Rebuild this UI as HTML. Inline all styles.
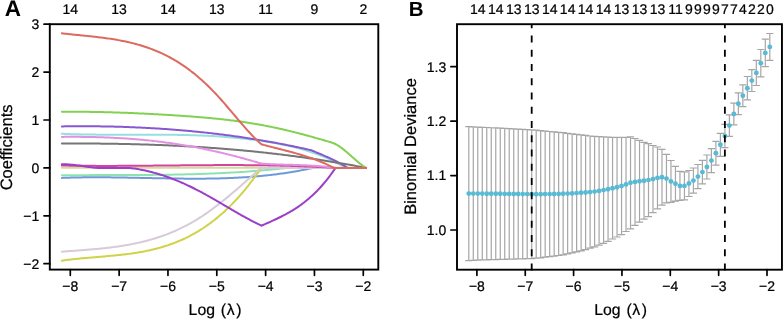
<!DOCTYPE html>
<html><head><meta charset="utf-8"><title>LASSO plots</title>
<style>html,body{margin:0;padding:0;background:#fff;width:783px;height:319px;overflow:hidden}svg{display:block}svg text{stroke:#000;stroke-width:0.22px}svg text.bl{stroke:none}</style>
</head><body>
<svg width="783" height="319" viewBox="0 0 783 319" text-rendering="geometricPrecision">
<rect width="783" height="319" fill="#fff"/>
<g fill="none" stroke-width="2.0" stroke-linejoin="round" stroke-linecap="round">
<path stroke="#D8D89A" d="M61.9 167.8 L366.1 167.8"/>
<path stroke="#8EE2B0" d="M61.9 175.3 L63.41 175.29 L64.92 175.27 L66.43 175.26 L67.94 175.25 L69.45 175.23 L70.96 175.22 L72.48 175.21 L73.99 175.2 L75.5 175.19 L77.01 175.18 L78.52 175.17 L80.03 175.17 L81.54 175.16 L83.05 175.15 L84.56 175.14 L86.07 175.14 L87.58 175.13 L89.09 175.13 L90.6 175.12 L92.11 175.12 L93.63 175.11 L95.14 175.11 L96.65 175.1 L98.16 175.1 L99.67 175.1 L101.18 175.09 L102.69 175.09 L104.2 175.09 L105.71 175.08 L107.22 175.08 L108.73 175.08 L110.24 175.07 L111.75 175.07 L113.27 175.07 L114.78 175.06 L116.29 175.06 L117.8 175.06 L119.31 175.05 L120.82 175.05 L122.33 175.05 L123.84 175.04 L125.35 175.04 L126.86 175.03 L128.37 175.03 L129.88 175.02 L131.39 175.02 L132.9 175.01 L134.42 175 L135.93 175 L137.44 174.99 L138.95 174.98 L140.46 174.97 L141.97 174.96 L143.48 174.95 L144.99 174.94 L146.5 174.93 L148.01 174.92 L149.52 174.91 L151.03 174.9 L152.54 174.89 L154.06 174.87 L155.57 174.86 L157.08 174.84 L158.59 174.83 L160.1 174.81 L161.61 174.79 L163.12 174.77 L164.63 174.75 L166.14 174.73 L167.65 174.71 L169.16 174.69 L170.67 174.66 L172.18 174.64 L173.69 174.61 L175.21 174.59 L176.72 174.56 L178.23 174.53 L179.74 174.5 L181.25 174.47 L182.76 174.44 L184.27 174.4 L185.78 174.37 L187.29 174.33 L188.8 174.3 L190.31 174.26 L191.82 174.22 L193.33 174.18 L194.84 174.13 L196.36 174.09 L197.87 174.04 L199.38 174 L200.89 173.95 L202.4 173.9 L203.91 173.85 L205.42 173.79 L206.93 173.74 L208.44 173.68 L209.95 173.62 L211.46 173.56 L212.97 173.5 L214.48 173.44 L216 173.37 L217.51 173.31 L219.02 173.24 L220.53 173.17 L222.04 173.1 L223.55 173.02 L225.06 172.95 L226.57 172.87 L228.08 172.79 L229.59 172.71 L231.1 172.62 L232.61 172.54 L234.12 172.45 L235.63 172.36 L237.15 172.27 L238.66 172.17 L240.17 172.08 L241.68 171.98 L243.19 171.88 L244.7 171.78 L246.21 171.67 L247.72 171.56 L249.23 171.46 L250.74 171.34 L252.25 171.23 L253.76 171.11 L255.27 170.99 L256.79 170.87 L258.3 170.75 L259.81 170.62 L261.32 170.49 L262.83 170.36 L264.34 170.23 L265.85 170.09 L267.36 169.95 L268.87 169.81 L270.38 169.67 L271.89 169.52 L273.4 169.37 L274.91 169.22 L276.42 169.06 L277.94 168.91 L279.45 168.75 L280.96 168.58 L282.47 168.42 L283.98 168.25 L285.49 168.08 L287 167.9 M287 167.9 L366.1 167.9"/>
<path stroke="#6E9AD6" d="M61.9 177.9 L63.41 177.84 L64.93 177.79 L66.44 177.74 L67.95 177.69 L69.46 177.64 L70.98 177.6 L72.49 177.56 L74 177.52 L75.51 177.49 L77.03 177.46 L78.54 177.43 L80.05 177.4 L81.56 177.38 L83.08 177.36 L84.59 177.34 L86.1 177.33 L87.62 177.31 L89.13 177.3 L90.64 177.29 L92.15 177.29 L93.67 177.28 L95.18 177.28 L96.69 177.28 L98.2 177.28 L99.72 177.29 L101.23 177.29 L102.74 177.3 L104.25 177.31 L105.77 177.32 L107.28 177.33 L108.79 177.35 L110.3 177.36 L111.82 177.38 L113.33 177.39 L114.84 177.41 L116.36 177.43 L117.87 177.46 L119.38 177.48 L120.89 177.5 L122.41 177.53 L123.92 177.55 L125.43 177.58 L126.94 177.61 L128.46 177.63 L129.97 177.66 L131.48 177.69 L132.99 177.72 L134.51 177.75 L136.02 177.78 L137.53 177.81 L139.05 177.85 L140.56 177.88 L142.07 177.91 L143.58 177.94 L145.1 177.97 L146.61 178.01 L148.12 178.04 L149.63 178.07 L151.15 178.1 L152.66 178.13 L154.17 178.16 L155.68 178.2 L157.2 178.23 L158.71 178.26 L160.22 178.29 L161.73 178.31 L163.25 178.34 L164.76 178.37 L166.27 178.4 L167.79 178.42 L169.3 178.45 L170.81 178.47 L172.32 178.5 L173.84 178.52 L175.35 178.54 L176.86 178.56 L178.37 178.58 L179.89 178.59 L181.4 178.61 L182.91 178.62 L184.42 178.64 L185.94 178.65 L187.45 178.66 L188.96 178.67 L190.48 178.67 L191.99 178.68 L193.5 178.68 L195.01 178.68 L196.53 178.68 L198.04 178.68 L199.55 178.67 L201.06 178.66 L202.58 178.65 L204.09 178.64 L205.6 178.63 L207.11 178.61 L208.63 178.59 L210.14 178.57 L211.65 178.55 L213.17 178.52 L214.68 178.49 L216.19 178.46 L217.7 178.42 L219.22 178.39 L220.73 178.34 L222.24 178.3 L223.75 178.25 L225.27 178.2 L226.78 178.15 L228.29 178.09 L229.8 178.03 L231.32 177.97 L232.83 177.9 L234.34 177.83 L235.85 177.76 L237.37 177.68 L238.88 177.6 L240.39 177.52 L241.91 177.43 L243.42 177.34 L244.93 177.24 L246.44 177.14 L247.96 177.04 L249.47 176.93 L250.98 176.82 L252.49 176.7 L254.01 176.58 L255.52 176.45 L257.03 176.32 L258.54 176.19 L260.06 176.05 L261.57 175.91 L263.08 175.76 L264.6 175.61 L266.11 175.45 L267.62 175.29 L269.13 175.12 L270.65 174.95 L272.16 174.78 L273.67 174.59 L275.18 174.41 L276.7 174.21 L278.21 174.02 L279.72 173.82 L281.23 173.61 L282.75 173.39 L284.26 173.18 L285.77 172.95 L287.28 172.72 L288.8 172.49 L290.31 172.24 L291.82 172 L293.34 171.75 L294.85 171.49 L296.36 171.22 L297.87 170.95 L299.39 170.67 L300.9 170.39 L302.41 170.1 L303.92 169.81 L305.44 169.51 L306.95 169.2 L308.46 168.88 L309.97 168.56 L311.49 168.24 L313 167.9 M313 167.9 L366.1 167.9"/>
<path stroke="#D0D24A" d="M61.9 260.7 L63.42 260.48 L64.94 260.26 L66.46 260.06 L67.99 259.86 L69.51 259.66 L71.03 259.48 L72.55 259.3 L74.07 259.13 L75.59 258.96 L77.11 258.8 L78.64 258.64 L80.16 258.49 L81.68 258.34 L83.2 258.2 L84.72 258.06 L86.24 257.92 L87.76 257.78 L89.28 257.65 L90.81 257.52 L92.33 257.39 L93.85 257.27 L95.37 257.14 L96.89 257.01 L98.41 256.89 L99.93 256.76 L101.46 256.64 L102.98 256.51 L104.5 256.38 L106.02 256.25 L107.54 256.12 L109.06 255.98 L110.58 255.85 L112.11 255.71 L113.63 255.57 L115.15 255.42 L116.67 255.27 L118.19 255.11 L119.71 254.95 L121.23 254.79 L122.75 254.61 L124.28 254.44 L125.8 254.25 L127.32 254.06 L128.84 253.87 L130.36 253.66 L131.88 253.45 L133.4 253.23 L134.93 253 L136.45 252.76 L137.97 252.52 L139.49 252.26 L141.01 251.99 L142.53 251.72 L144.05 251.43 L145.58 251.13 L147.1 250.82 L148.62 250.5 L150.14 250.16 L151.66 249.82 L153.18 249.46 L154.7 249.09 L156.23 248.7 L157.75 248.3 L159.27 247.89 L160.79 247.46 L162.31 247.01 L163.83 246.55 L165.35 246.08 L166.87 245.59 L168.4 245.08 L169.92 244.56 L171.44 244.01 L172.96 243.45 L174.48 242.88 L176 242.28 L177.52 241.67 L179.05 241.03 L180.57 240.38 L182.09 239.71 L183.61 239.01 L185.13 238.3 L186.65 237.56 L188.17 236.81 L189.7 236.03 L191.22 235.23 L192.74 234.41 L194.26 233.56 L195.78 232.69 L197.3 231.8 L198.82 230.88 L200.35 229.94 L201.87 228.97 L203.39 227.98 L204.91 226.97 L206.43 225.92 L207.95 224.85 L209.47 223.76 L210.99 222.64 L212.52 221.48 L214.04 220.31 L215.56 219.1 L217.08 217.86 L218.6 216.6 L220.12 215.31 L221.64 213.98 L223.17 212.63 L224.69 211.25 L226.21 209.83 L227.73 208.39 L229.25 206.91 L230.77 205.4 L232.29 203.86 L233.82 202.28 L235.34 200.67 L236.86 199.03 L238.38 197.36 L239.9 195.65 L241.42 193.9 L242.94 192.12 L244.46 190.31 L245.99 188.46 L247.51 186.57 L249.03 184.65 L250.55 182.69 L252.07 180.69 L253.59 178.65 L255.11 176.58 L256.64 174.47 L258.16 172.32 L259.68 170.13 L261.2 167.9 M261.2 167.9 L366.1 167.9"/>
<path stroke="#D8CAD8" d="M61.9 251.7 L63.42 251.58 L64.94 251.46 L66.46 251.34 L67.98 251.23 L69.5 251.11 L71.02 251 L72.54 250.89 L74.06 250.77 L75.58 250.66 L77.1 250.54 L78.62 250.43 L80.14 250.31 L81.66 250.2 L83.18 250.08 L84.7 249.96 L86.22 249.84 L87.74 249.72 L89.26 249.59 L90.78 249.46 L92.3 249.33 L93.82 249.2 L95.34 249.06 L96.86 248.92 L98.38 248.77 L99.9 248.63 L101.42 248.47 L102.94 248.32 L104.46 248.15 L105.98 247.99 L107.5 247.81 L109.02 247.64 L110.54 247.45 L112.05 247.26 L113.57 247.07 L115.09 246.86 L116.61 246.65 L118.13 246.44 L119.65 246.21 L121.17 245.98 L122.69 245.74 L124.21 245.5 L125.73 245.24 L127.25 244.98 L128.77 244.71 L130.29 244.42 L131.81 244.13 L133.33 243.83 L134.85 243.52 L136.37 243.2 L137.89 242.87 L139.41 242.53 L140.93 242.18 L142.45 241.82 L143.97 241.44 L145.49 241.06 L147.01 240.66 L148.53 240.25 L150.05 239.83 L151.57 239.4 L153.09 238.95 L154.61 238.49 L156.13 238.02 L157.65 237.53 L159.17 237.03 L160.69 236.52 L162.21 235.99 L163.73 235.45 L165.25 234.89 L166.77 234.32 L168.29 233.73 L169.81 233.13 L171.33 232.51 L172.85 231.88 L174.37 231.23 L175.89 230.56 L177.41 229.88 L178.93 229.18 L180.45 228.46 L181.97 227.72 L183.49 226.97 L185.01 226.2 L186.53 225.41 L188.05 224.6 L189.57 223.78 L191.09 222.93 L192.61 222.07 L194.13 221.18 L195.65 220.28 L197.17 219.36 L198.69 218.42 L200.21 217.45 L201.73 216.47 L203.25 215.46 L204.77 214.44 L206.29 213.4 L207.81 212.33 L209.33 211.26 L210.85 210.16 L212.36 209.05 L213.88 207.92 L215.4 206.77 L216.92 205.61 L218.44 204.44 L219.96 203.25 L221.48 202.05 L223 200.83 L224.52 199.61 L226.04 198.37 L227.56 197.12 L229.08 195.86 L230.6 194.59 L232.12 193.3 L233.64 192.02 L235.16 190.72 L236.68 189.41 L238.2 188.1 L239.72 186.78 L241.24 185.45 L242.76 184.12 L244.28 182.78 L245.8 181.44 L247.32 180.1 L248.84 178.75 L250.36 177.4 L251.88 176.04 L253.4 174.69 L254.92 173.33 L256.44 171.97 L257.96 170.61 L259.48 169.25 L261 167.9 M261 167.9 L366.1 167.9"/>
<path stroke="#D2459C" d="M61.9 165.5 L63.41 165.53 L64.92 165.56 L66.43 165.58 L67.94 165.61 L69.44 165.63 L70.95 165.65 L72.46 165.67 L73.97 165.69 L75.48 165.71 L76.99 165.73 L78.5 165.75 L80.01 165.76 L81.51 165.78 L83.02 165.79 L84.53 165.81 L86.04 165.82 L87.55 165.83 L89.06 165.84 L90.57 165.85 L92.08 165.86 L93.59 165.86 L95.09 165.87 L96.6 165.88 L98.11 165.88 L99.62 165.88 L101.13 165.89 L102.64 165.89 L104.15 165.89 L105.66 165.89 L107.17 165.89 L108.67 165.89 L110.18 165.89 L111.69 165.89 L113.2 165.88 L114.71 165.88 L116.22 165.88 L117.73 165.87 L119.24 165.87 L120.74 165.86 L122.25 165.85 L123.76 165.85 L125.27 165.84 L126.78 165.83 L128.29 165.82 L129.8 165.81 L131.31 165.81 L132.82 165.8 L134.32 165.79 L135.83 165.78 L137.34 165.76 L138.85 165.75 L140.36 165.74 L141.87 165.73 L143.38 165.72 L144.89 165.7 L146.4 165.69 L147.9 165.68 L149.41 165.66 L150.92 165.65 L152.43 165.64 L153.94 165.62 L155.45 165.61 L156.96 165.6 L158.47 165.58 L159.97 165.57 L161.48 165.55 L162.99 165.54 L164.5 165.52 L166.01 165.51 L167.52 165.49 L169.03 165.48 L170.54 165.46 L172.05 165.45 L173.55 165.43 L175.06 165.42 L176.57 165.4 L178.08 165.39 L179.59 165.38 L181.1 165.36 L182.61 165.35 L184.12 165.33 L185.62 165.32 L187.13 165.31 L188.64 165.29 L190.15 165.28 L191.66 165.27 L193.17 165.26 L194.68 165.24 L196.19 165.23 L197.7 165.22 L199.2 165.21 L200.71 165.2 L202.22 165.19 L203.73 165.18 L205.24 165.17 L206.75 165.16 L208.26 165.15 L209.77 165.14 L211.28 165.14 L212.78 165.13 L214.29 165.12 L215.8 165.12 L217.31 165.11 L218.82 165.11 L220.33 165.1 L221.84 165.1 L223.35 165.09 L224.85 165.09 L226.36 165.09 L227.87 165.09 L229.38 165.09 L230.89 165.09 L232.4 165.09 L233.91 165.09 L235.42 165.1 L236.93 165.1 L238.43 165.1 L239.94 165.11 L241.45 165.11 L242.96 165.12 L244.47 165.13 L245.98 165.14 L247.49 165.15 L249 165.16 L250.5 165.17 L252.01 165.18 L253.52 165.2 L255.03 165.21 L256.54 165.23 L258.05 165.24 L259.56 165.26 L261.07 165.28 L262.58 165.3 L264.08 165.32 L265.59 165.34 L267.1 165.37 L268.61 165.39 L270.12 165.42 L271.63 165.44 L273.14 165.47 L274.65 165.5 L276.16 165.53 L277.66 165.56 L279.17 165.6 L280.68 165.63 L282.19 165.67 L283.7 165.7 L285.21 165.74 L286.72 165.78 L288.23 165.82 L289.73 165.87 L291.24 165.91 L292.75 165.96 L294.26 166 L295.77 166.05 L297.28 166.1 L298.79 166.15 L300.3 166.21 L301.81 166.26 L303.31 166.32 L304.82 166.38 L306.33 166.43 L307.84 166.5 L309.35 166.56 L310.86 166.62 L312.37 166.69 L313.88 166.76 L315.39 166.83 L316.89 166.9 L318.4 166.97 L319.91 167.05 L321.42 167.12 L322.93 167.2 L324.44 167.28 L325.95 167.37 L327.46 167.45 L328.96 167.54 L330.47 167.62 L331.98 167.71 L333.49 167.81 L335 167.9 M335 167.9 L366.1 167.9"/>
<path stroke="#96DFDF" d="M61.9 133.8 L63.41 133.86 L64.92 133.92 L66.43 133.98 L67.93 134.03 L69.44 134.09 L70.95 134.14 L72.46 134.18 L73.97 134.23 L75.48 134.27 L76.99 134.31 L78.49 134.35 L80 134.38 L81.51 134.41 L83.02 134.44 L84.53 134.47 L86.04 134.5 L87.54 134.52 L89.05 134.55 L90.56 134.57 L92.07 134.59 L93.58 134.61 L95.09 134.62 L96.6 134.64 L98.1 134.65 L99.61 134.66 L101.12 134.67 L102.63 134.68 L104.14 134.69 L105.65 134.7 L107.16 134.7 L108.66 134.71 L110.17 134.71 L111.68 134.72 L113.19 134.72 L114.7 134.72 L116.21 134.72 L117.71 134.72 L119.22 134.72 L120.73 134.72 L122.24 134.72 L123.75 134.72 L125.26 134.71 L126.77 134.71 L128.27 134.71 L129.78 134.7 L131.29 134.7 L132.8 134.7 L134.31 134.69 L135.82 134.69 L137.33 134.69 L138.83 134.69 L140.34 134.68 L141.85 134.68 L143.36 134.68 L144.87 134.68 L146.38 134.68 L147.89 134.68 L149.39 134.68 L150.9 134.68 L152.41 134.68 L153.92 134.68 L155.43 134.69 L156.94 134.69 L158.44 134.7 L159.95 134.7 L161.46 134.71 L162.97 134.72 L164.48 134.73 L165.99 134.74 L167.5 134.76 L169 134.77 L170.51 134.79 L172.02 134.8 L173.53 134.82 L175.04 134.84 L176.55 134.87 L178.06 134.89 L179.56 134.92 L181.07 134.95 L182.58 134.98 L184.09 135.01 L185.6 135.04 L187.11 135.08 L188.61 135.12 L190.12 135.16 L191.63 135.2 L193.14 135.25 L194.65 135.3 L196.16 135.35 L197.67 135.4 L199.17 135.46 L200.68 135.52 L202.19 135.58 L203.7 135.65 L205.21 135.71 L206.72 135.78 L208.23 135.86 L209.73 135.94 L211.24 136.02 L212.75 136.1 L214.26 136.19 L215.77 136.28 L217.28 136.37 L218.79 136.47 L220.29 136.57 L221.8 136.67 L223.31 136.78 L224.82 136.89 L226.33 137.01 L227.84 137.13 L229.34 137.25 L230.85 137.38 L232.36 137.51 L233.87 137.64 L235.38 137.78 L236.89 137.93 L238.4 138.08 L239.9 138.23 L241.41 138.39 L242.92 138.55 L244.43 138.71 L245.94 138.88 L247.45 139.06 L248.96 139.24 L250.46 139.43 L251.97 139.62 L253.48 139.81 L254.99 140.01 L256.5 140.21 L258.01 140.42 L259.51 140.64 L261.02 140.86 L262.53 141.09 L264.04 141.32 L265.55 141.55 L267.06 141.79 L268.57 142.04 L270.07 142.29 L271.58 142.55 L273.09 142.82 L274.6 143.09 L276.11 143.36 L277.62 143.65 L279.13 143.93 L280.63 144.23 L282.14 144.53 L283.65 144.83 L285.16 145.15 L286.67 145.47 L288.18 145.8 L289.69 146.14 L291.19 146.48 L292.7 146.84 L294.21 147.2 L295.72 147.57 L297.23 147.96 L298.74 148.35 L300.24 148.76 L301.75 149.17 L303.26 149.6 L304.77 150.04 L306.28 150.5 L307.79 150.96 L309.3 151.44 L310.8 151.93 L312.31 152.44 L313.82 152.96 L315.33 153.5 L316.84 154.05 L318.35 154.61 L319.86 155.19 L321.36 155.79 L322.87 156.41 L324.38 157.04 L325.89 157.69 L327.4 158.36 L328.91 159.04 L330.41 159.75 L331.92 160.47 L333.43 161.21 L334.94 161.97 L336.45 162.76 L337.96 163.56 L339.47 164.38 L340.97 165.23 L342.48 166.1 L343.99 166.99 L345.5 167.9 M345.5 167.9 L366.1 167.9"/>
<path stroke="#8858CF" d="M61.9 126.4 L63.41 126.38 L64.93 126.36 L66.44 126.34 L67.95 126.32 L69.46 126.31 L70.98 126.3 L72.49 126.28 L74 126.27 L75.51 126.26 L77.03 126.26 L78.54 126.25 L80.05 126.25 L81.57 126.25 L83.08 126.25 L84.59 126.25 L86.1 126.25 L87.62 126.26 L89.13 126.27 L90.64 126.27 L92.15 126.28 L93.67 126.3 L95.18 126.31 L96.69 126.33 L98.21 126.34 L99.72 126.36 L101.23 126.38 L102.74 126.41 L104.26 126.43 L105.77 126.46 L107.28 126.49 L108.79 126.52 L110.31 126.55 L111.82 126.58 L113.33 126.62 L114.85 126.66 L116.36 126.7 L117.87 126.74 L119.38 126.78 L120.9 126.83 L122.41 126.87 L123.92 126.92 L125.43 126.97 L126.95 127.03 L128.46 127.08 L129.97 127.14 L131.49 127.2 L133 127.26 L134.51 127.32 L136.02 127.39 L137.54 127.45 L139.05 127.52 L140.56 127.59 L142.07 127.66 L143.59 127.74 L145.1 127.82 L146.61 127.89 L148.13 127.97 L149.64 128.06 L151.15 128.14 L152.66 128.23 L154.18 128.32 L155.69 128.41 L157.2 128.5 L158.71 128.6 L160.23 128.69 L161.74 128.79 L163.25 128.9 L164.77 129 L166.28 129.1 L167.79 129.21 L169.3 129.32 L170.82 129.43 L172.33 129.55 L173.84 129.67 L175.35 129.78 L176.87 129.9 L178.38 130.03 L179.89 130.15 L181.41 130.28 L182.92 130.41 L184.43 130.54 L185.94 130.68 L187.46 130.81 L188.97 130.95 L190.48 131.09 L191.99 131.23 L193.51 131.38 L195.02 131.53 L196.53 131.68 L198.05 131.83 L199.56 131.98 L201.07 132.14 L202.58 132.3 L204.1 132.46 L205.61 132.62 L207.12 132.79 L208.63 132.96 L210.15 133.13 L211.66 133.3 L213.17 133.48 L214.69 133.66 L216.2 133.84 L217.71 134.02 L219.22 134.2 L220.74 134.39 L222.25 134.58 L223.76 134.77 L225.27 134.97 L226.79 135.16 L228.3 135.36 L229.81 135.56 L231.33 135.77 L232.84 135.98 L234.35 136.18 L235.86 136.4 L237.38 136.61 L238.89 136.83 L240.4 137.05 L241.91 137.27 L243.43 137.49 L244.94 137.72 L246.45 137.95 L247.97 138.18 L249.48 138.41 L250.99 138.65 L252.5 138.89 L254.02 139.13 L255.53 139.38 L257.04 139.62 L258.55 139.87 L260.07 140.13 L261.58 140.38 L263.09 140.64 L264.61 140.9 L266.12 141.16 L267.63 141.43 L269.14 141.69 L270.66 141.96 L272.17 142.24 L273.68 142.51 L275.19 142.79 L276.71 143.07 L278.22 143.36 L279.73 143.64 L281.25 143.93 L282.76 144.23 L284.27 144.52 L285.78 144.82 L287.3 145.12 L288.81 145.42 L290.32 145.73 L291.83 146.04 L293.35 146.35 L294.86 146.66 L296.37 146.98 L297.89 147.3 L299.4 147.62 L300.91 147.95 L302.42 148.27 L303.94 148.6 L305.45 148.94 L306.96 149.27 L308.47 149.61 L309.99 149.96 L311.5 150.3 M311.5 150.3 L313.07 150.97 L314.63 151.64 L316.2 152.3 L317.76 152.96 L319.33 153.62 L320.89 154.28 L322.46 154.95 L324.02 155.63 L325.59 156.31 L327.15 157 L328.72 157.71 L330.28 158.43 L331.85 159.16 L333.41 159.92 L334.98 160.7 L336.54 161.5 L338.11 162.32 L339.67 163.17 L341.24 164.05 L342.8 164.96 L344.37 165.9 L345.93 166.88 L347.5 167.9 M347.5 167.9 L366.1 167.9"/>
<path stroke="#767676" d="M61.9 143.6 L63.41 143.59 L64.93 143.58 L66.44 143.57 L67.95 143.56 L69.47 143.56 L70.98 143.55 L72.49 143.55 L74.01 143.54 L75.52 143.54 L77.03 143.54 L78.55 143.53 L80.06 143.53 L81.57 143.53 L83.09 143.54 L84.6 143.54 L86.11 143.54 L87.63 143.55 L89.14 143.55 L90.66 143.56 L92.17 143.57 L93.68 143.58 L95.2 143.58 L96.71 143.6 L98.22 143.61 L99.74 143.62 L101.25 143.63 L102.76 143.65 L104.28 143.66 L105.79 143.68 L107.3 143.7 L108.82 143.72 L110.33 143.74 L111.84 143.76 L113.36 143.78 L114.87 143.8 L116.38 143.83 L117.9 143.85 L119.41 143.88 L120.92 143.91 L122.44 143.94 L123.95 143.97 L125.46 144 L126.98 144.03 L128.49 144.07 L130 144.1 L131.52 144.14 L133.03 144.17 L134.54 144.21 L136.06 144.25 L137.57 144.29 L139.09 144.33 L140.6 144.38 L142.11 144.42 L143.63 144.47 L145.14 144.51 L146.65 144.56 L148.17 144.61 L149.68 144.66 L151.19 144.71 L152.71 144.77 L154.22 144.82 L155.73 144.88 L157.25 144.93 L158.76 144.99 L160.27 145.05 L161.79 145.11 L163.3 145.17 L164.81 145.24 L166.33 145.3 L167.84 145.37 L169.35 145.43 L170.87 145.5 L172.38 145.57 L173.89 145.64 L175.41 145.72 L176.92 145.79 L178.43 145.87 L179.95 145.94 L181.46 146.02 L182.97 146.1 L184.49 146.18 L186 146.26 L187.51 146.35 L189.03 146.43 L190.54 146.52 L192.06 146.61 L193.57 146.7 L195.08 146.79 L196.6 146.88 L198.11 146.97 L199.62 147.07 L201.14 147.17 L202.65 147.26 L204.16 147.36 L205.68 147.46 L207.19 147.57 L208.7 147.67 L210.22 147.78 L211.73 147.88 L213.24 147.99 L214.76 148.1 L216.27 148.21 L217.78 148.33 L219.3 148.44 L220.81 148.56 L222.32 148.68 L223.84 148.8 L225.35 148.92 L226.86 149.04 L228.38 149.16 L229.89 149.29 L231.4 149.42 L232.92 149.55 L234.43 149.68 L235.94 149.81 L237.46 149.94 L238.97 150.08 L240.49 150.21 L242 150.35 L243.51 150.49 L245.03 150.64 L246.54 150.78 L248.05 150.92 L249.57 151.07 L251.08 151.22 L252.59 151.37 L254.11 151.52 L255.62 151.68 L257.13 151.83 L258.65 151.99 L260.16 152.15 L261.67 152.31 L263.19 152.47 L264.7 152.63 L266.21 152.8 L267.73 152.97 L269.24 153.14 L270.75 153.31 L272.27 153.48 L273.78 153.65 L275.29 153.83 L276.81 154.01 L278.32 154.19 L279.83 154.37 L281.35 154.55 L282.86 154.74 L284.37 154.93 L285.89 155.12 L287.4 155.31 L288.91 155.5 L290.43 155.69 L291.94 155.89 L293.46 156.09 L294.97 156.29 L296.48 156.49 L298 156.69 L299.51 156.9 L301.02 157.11 L302.54 157.32 L304.05 157.53 L305.56 157.74 L307.08 157.95 L308.59 158.17 L310.1 158.39 L311.62 158.61 L313.13 158.83 L314.64 159.06 L316.16 159.29 L317.67 159.51 L319.18 159.74 L320.7 159.98 L322.21 160.21 L323.72 160.45 L325.24 160.69 L326.75 160.93 L328.26 161.17 L329.78 161.41 L331.29 161.66 L332.8 161.91 L334.32 162.16 L335.83 162.41 L337.34 162.67 L338.86 162.92 L340.37 163.18 L341.89 163.44 L343.4 163.71 L344.91 163.97 L346.43 164.24 L347.94 164.51 L349.45 164.78 L350.97 165.05 L352.48 165.33 L353.99 165.6 L355.51 165.88 L357.02 166.16 L358.53 166.45 L360.05 166.73 L361.56 167.02 L363.07 167.31 L364.59 167.6 L366.1 167.9"/>
<path stroke="#E290E2" d="M61.9 136.9 L63.42 136.88 L64.95 136.87 L66.47 136.86 L67.99 136.85 L69.51 136.84 L71.04 136.84 L72.56 136.83 L74.08 136.84 L75.61 136.84 L77.13 136.84 L78.65 136.85 L80.17 136.86 L81.7 136.88 L83.22 136.89 L84.74 136.91 L86.27 136.93 L87.79 136.95 L89.31 136.98 L90.84 137.01 L92.36 137.04 L93.88 137.08 L95.4 137.12 L96.93 137.16 L98.45 137.2 L99.97 137.25 L101.5 137.3 L103.02 137.35 L104.54 137.41 L106.06 137.46 L107.59 137.53 L109.11 137.59 L110.63 137.66 L112.16 137.73 L113.68 137.8 L115.2 137.88 L116.72 137.96 L118.25 138.05 L119.77 138.14 L121.29 138.23 L122.82 138.32 L124.34 138.42 L125.86 138.52 L127.38 138.62 L128.91 138.73 L130.43 138.84 L131.95 138.96 L133.48 139.08 L135 139.2 L136.52 139.32 L138.05 139.45 L139.57 139.59 L141.09 139.72 L142.61 139.86 L144.14 140.01 L145.66 140.16 L147.18 140.31 L148.71 140.46 L150.23 140.62 L151.75 140.79 L153.27 140.96 L154.8 141.13 L156.32 141.3 L157.84 141.48 L159.37 141.66 L160.89 141.85 L162.41 142.04 L163.93 142.24 L165.46 142.44 L166.98 142.64 L168.5 142.85 L170.03 143.06 L171.55 143.28 L173.07 143.5 L174.59 143.73 L176.12 143.96 L177.64 144.19 L179.16 144.43 L180.69 144.67 L182.21 144.92 L183.73 145.17 L185.25 145.43 L186.78 145.69 L188.3 145.95 L189.82 146.22 L191.35 146.49 L192.87 146.77 L194.39 147.06 L195.92 147.34 L197.44 147.63 L198.96 147.93 L200.48 148.23 L202.01 148.54 L203.53 148.84 L205.05 149.16 L206.58 149.47 L208.1 149.8 L209.62 150.12 L211.14 150.45 L212.67 150.79 L214.19 151.13 L215.71 151.47 L217.24 151.82 L218.76 152.17 L220.28 152.52 L221.8 152.88 L223.33 153.24 L224.85 153.61 L226.37 153.98 L227.9 154.36 L229.42 154.74 L230.94 155.12 L232.46 155.51 L233.99 155.9 L235.51 156.29 L237.03 156.69 L238.56 157.1 L240.08 157.5 L241.6 157.91 L243.13 158.33 L244.65 158.75 L246.17 159.17 L247.69 159.6 L249.22 160.03 L250.74 160.46 L252.26 160.9 L253.79 161.34 L255.31 161.78 L256.83 162.23 L258.35 162.69 L259.88 163.14 L261.4 163.6 M261.4 163.6 L262.93 163.71 L264.47 163.8 L266 163.9 L267.53 163.98 L269.07 164.06 L270.6 164.14 L272.13 164.21 L273.67 164.28 L275.2 164.34 L276.73 164.4 L278.27 164.45 L279.8 164.5 L281.33 164.55 L282.87 164.6 L284.4 164.64 L285.93 164.69 L287.47 164.73 L289 164.78 L290.53 164.82 L292.07 164.86 L293.6 164.91 L295.13 164.95 L296.67 165 L298.2 165.05 L299.73 165.1 L301.27 165.15 L302.8 165.21 L304.33 165.27 L305.87 165.34 L307.4 165.41 L308.93 165.48 L310.47 165.56 L312 165.65 L313.53 165.74 L315.07 165.84 L316.6 165.95 L318.13 166.06 L319.67 166.18 L321.2 166.31 L322.73 166.44 L324.27 166.59 L325.8 166.75 L327.33 166.91 L328.87 167.09 L330.4 167.27 L331.93 167.47 L333.47 167.68 L335 167.9 M335 167.9 L366.1 167.9"/>
<path stroke="#82D152" d="M61.9 111.7 L63.41 111.7 L64.93 111.69 L66.44 111.69 L67.96 111.69 L69.47 111.69 L70.99 111.7 L72.5 111.7 L74.02 111.71 L75.53 111.71 L77.05 111.72 L78.56 111.73 L80.08 111.75 L81.59 111.76 L83.1 111.78 L84.62 111.79 L86.13 111.81 L87.65 111.83 L89.16 111.85 L90.68 111.88 L92.19 111.9 L93.71 111.93 L95.22 111.96 L96.74 111.98 L98.25 112.02 L99.77 112.05 L101.28 112.08 L102.79 112.12 L104.31 112.15 L105.82 112.19 L107.34 112.23 L108.85 112.27 L110.37 112.31 L111.88 112.36 L113.4 112.4 L114.91 112.45 L116.43 112.5 L117.94 112.55 L119.46 112.6 L120.97 112.65 L122.48 112.7 L124 112.76 L125.51 112.81 L127.03 112.87 L128.54 112.93 L130.06 112.99 L131.57 113.05 L133.09 113.11 L134.6 113.18 L136.12 113.24 L137.63 113.31 L139.14 113.38 L140.66 113.45 L142.17 113.52 L143.69 113.59 L145.2 113.67 L146.72 113.74 L148.23 113.82 L149.75 113.9 L151.26 113.97 L152.78 114.06 L154.29 114.14 L155.81 114.22 L157.32 114.3 L158.83 114.39 L160.35 114.47 L161.86 114.56 L163.38 114.65 L164.89 114.74 L166.41 114.83 L167.92 114.93 L169.44 115.02 L170.95 115.11 L172.47 115.21 L173.98 115.31 L175.5 115.41 L177.01 115.51 L178.52 115.61 L180.04 115.71 L181.55 115.81 L183.07 115.92 L184.58 116.02 L186.1 116.13 L187.61 116.24 L189.13 116.35 L190.64 116.46 L192.16 116.58 L193.67 116.69 L195.19 116.81 L196.7 116.93 L198.21 117.05 L199.73 117.18 L201.24 117.3 L202.76 117.43 L204.27 117.56 L205.79 117.69 L207.3 117.83 L208.82 117.97 L210.33 118.11 L211.85 118.25 L213.36 118.4 L214.88 118.55 L216.39 118.7 L217.9 118.85 L219.42 119.01 L220.93 119.17 L222.45 119.34 L223.96 119.51 L225.48 119.68 L226.99 119.85 L228.51 120.03 L230.02 120.21 L231.54 120.4 L233.05 120.59 L234.57 120.78 L236.08 120.98 L237.59 121.18 L239.11 121.39 L240.62 121.6 L242.14 121.81 L243.65 122.03 L245.17 122.26 L246.68 122.49 L248.2 122.72 L249.71 122.96 L251.23 123.2 L252.74 123.45 L254.26 123.7 L255.77 123.95 L257.28 124.22 L258.8 124.48 L260.31 124.76 L261.83 125.03 L263.34 125.32 L264.86 125.61 L266.37 125.9 L267.89 126.2 L269.4 126.5 L270.92 126.81 L272.43 127.12 L273.94 127.44 L275.46 127.76 L276.97 128.09 L278.49 128.43 L280 128.76 L281.52 129.1 L283.03 129.45 L284.55 129.8 L286.06 130.16 L287.58 130.52 L289.09 130.88 L290.61 131.25 L292.12 131.62 L293.63 132 L295.15 132.38 L296.66 132.76 L298.18 133.15 L299.69 133.55 L301.21 133.94 L302.72 134.34 L304.24 134.75 L305.75 135.16 L307.27 135.57 L308.78 135.98 L310.3 136.4 L311.81 136.82 L313.32 137.24 L314.84 137.67 L316.35 138.1 L317.87 138.53 L319.38 138.96 L320.9 139.4 L322.41 139.83 L323.93 140.27 L325.44 140.72 L326.96 141.16 L328.47 141.6 L329.99 142.05 L331.5 142.5 M331.5 142.5 L333.07 143.04 L334.65 143.71 L336.22 144.5 L337.79 145.4 L339.36 146.4 L340.94 147.49 L342.51 148.66 L344.08 149.89 L345.65 151.18 L347.23 152.51 L348.8 153.88 L350.37 155.27 L351.95 156.67 L353.52 158.07 L355.09 159.45 L356.66 160.82 L358.24 162.15 L359.81 163.43 L361.38 164.66 L362.95 165.82 L364.53 166.91 L366.1 167.9"/>
<path stroke="#9B3FC8" d="M61.9 164.2 L63.47 164.22 L65.03 164.27 L66.6 164.35 L68.16 164.45 L69.73 164.56 L71.29 164.7 L72.86 164.86 L74.42 165.02 L75.99 165.21 L77.55 165.4 L79.12 165.6 L80.68 165.81 L82.25 166.02 L83.81 166.24 L85.38 166.46 L86.94 166.67 L88.51 166.89 L90.07 167.1 L91.64 167.3 L93.2 167.49 L94.77 167.67 L96.33 167.84 L97.9 168 M97.9 168 L130.1 168 M130.1 168 L131.63 168.19 L133.15 168.39 L134.68 168.61 L136.21 168.85 L137.73 169.1 L139.26 169.37 L140.79 169.65 L142.31 169.95 L143.84 170.26 L145.37 170.59 L146.89 170.93 L148.42 171.29 L149.95 171.66 L151.47 172.05 L153 172.45 L154.53 172.87 L156.05 173.3 L157.58 173.74 L159.11 174.2 L160.63 174.68 L162.16 175.16 L163.69 175.66 L165.22 176.18 L166.74 176.71 L168.27 177.25 L169.8 177.81 L171.32 178.38 L172.85 178.97 L174.38 179.56 L175.9 180.17 L177.43 180.8 L178.96 181.43 L180.48 182.08 L182.01 182.75 L183.54 183.42 L185.06 184.11 L186.59 184.81 L188.12 185.53 L189.64 186.25 L191.17 186.99 L192.7 187.74 L194.22 188.5 L195.75 189.28 L197.28 190.07 L198.8 190.86 L200.33 191.67 L201.86 192.49 L203.38 193.32 L204.91 194.15 L206.44 195 L207.96 195.85 L209.49 196.71 L211.02 197.58 L212.54 198.45 L214.07 199.32 L215.6 200.2 L217.12 201.09 L218.65 201.98 L220.18 202.87 L221.7 203.76 L223.23 204.65 L224.76 205.55 L226.28 206.44 L227.81 207.34 L229.34 208.23 L230.87 209.13 L232.39 210.02 L233.92 210.9 L235.45 211.79 L236.97 212.67 L238.5 213.54 L240.03 214.41 L241.55 215.28 L243.08 216.13 L244.61 216.98 L246.13 217.83 L247.66 218.66 L249.19 219.49 L250.71 220.3 L252.24 221.11 L253.77 221.91 L255.29 222.69 L256.82 223.46 L258.35 224.22 L259.87 224.97 L261.4 225.7 M261.4 225.7 L262.94 225.02 L264.49 224.34 L266.03 223.66 L267.57 222.98 L269.12 222.29 L270.66 221.6 L272.21 220.9 L273.75 220.2 L275.29 219.48 L276.84 218.75 L278.38 218.01 L279.92 217.26 L281.47 216.49 L283.01 215.7 L284.56 214.9 L286.1 214.07 L287.64 213.22 L289.19 212.35 L290.73 211.46 L292.27 210.53 L293.82 209.58 L295.36 208.6 L296.91 207.59 L298.45 206.55 L299.99 205.47 L301.54 204.36 L303.08 203.21 L304.62 202.03 L306.17 200.8 L307.71 199.53 L309.26 198.22 L310.8 196.86 L312.34 195.46 L313.89 194.01 L315.43 192.51 L316.98 190.97 L318.52 189.36 L320.06 187.71 L321.61 186 L323.15 184.24 L324.69 182.41 L326.24 180.53 L327.78 178.59 L329.32 176.58 L330.87 174.51 L332.41 172.37 L333.96 170.17 L335.5 167.9 M335.5 167.9 L366.1 167.9"/>
<path stroke="#DD6A5F" d="M61.9 33.3 L63.42 33.48 L64.95 33.65 L66.47 33.83 L67.99 33.99 L69.51 34.16 L71.04 34.32 L72.56 34.48 L74.08 34.64 L75.61 34.8 L77.13 34.95 L78.65 35.11 L80.17 35.26 L81.7 35.41 L83.22 35.57 L84.74 35.72 L86.27 35.88 L87.79 36.04 L89.31 36.2 L90.84 36.36 L92.36 36.52 L93.88 36.69 L95.4 36.86 L96.93 37.04 L98.45 37.22 L99.97 37.4 L101.5 37.59 L103.02 37.78 L104.54 37.98 L106.06 38.19 L107.59 38.4 L109.11 38.62 L110.63 38.85 L112.16 39.08 L113.68 39.33 L115.2 39.58 L116.72 39.84 L118.25 40.11 L119.77 40.39 L121.29 40.67 L122.82 40.97 L124.34 41.28 L125.86 41.6 L127.38 41.94 L128.91 42.28 L130.43 42.64 L131.95 43.01 L133.48 43.39 L135 43.79 L136.52 44.2 L138.05 44.62 L139.57 45.06 L141.09 45.51 L142.61 45.98 L144.14 46.47 L145.66 46.97 L147.18 47.49 L148.71 48.02 L150.23 48.57 L151.75 49.14 L153.27 49.73 L154.8 50.34 L156.32 50.96 L157.84 51.61 L159.37 52.27 L160.89 52.96 L162.41 53.66 L163.93 54.39 L165.46 55.13 L166.98 55.9 L168.5 56.69 L170.03 57.5 L171.55 58.34 L173.07 59.2 L174.59 60.08 L176.12 60.98 L177.64 61.91 L179.16 62.87 L180.69 63.85 L182.21 64.85 L183.73 65.88 L185.25 66.94 L186.78 68.02 L188.3 69.13 L189.82 70.27 L191.35 71.43 L192.87 72.62 L194.39 73.83 L195.92 75.08 L197.44 76.35 L198.96 77.65 L200.48 78.97 L202.01 80.32 L203.53 81.7 L205.05 83.11 L206.58 84.55 L208.1 86.02 L209.62 87.51 L211.14 89.03 L212.67 90.58 L214.19 92.16 L215.71 93.77 L217.24 95.41 L218.76 97.08 L220.28 98.77 L221.8 100.48 L223.33 102.21 L224.85 103.96 L226.37 105.73 L227.9 107.5 L229.42 109.29 L230.94 111.09 L232.46 112.89 L233.99 114.7 L235.51 116.51 L237.03 118.31 L238.56 120.11 L240.08 121.9 L241.6 123.68 L243.13 125.44 L244.65 127.19 L246.17 128.91 L247.69 130.61 L249.22 132.28 L250.74 133.93 L252.26 135.53 L253.79 137.1 L255.31 138.64 L256.83 140.12 L258.35 141.57 L259.88 142.96 L261.4 144.3 M261.4 144.3 L262.94 144.72 L264.49 145.13 L266.03 145.54 L267.57 145.95 L269.11 146.35 L270.66 146.74 L272.2 147.14 L273.74 147.53 L275.28 147.92 L276.83 148.31 L278.37 148.7 L279.91 149.09 L281.45 149.48 L283 149.88 L284.54 150.27 L286.08 150.67 L287.62 151.07 L289.17 151.48 L290.71 151.89 L292.25 152.3 L293.79 152.73 L295.34 153.16 L296.88 153.59 L298.42 154.04 L299.96 154.49 L301.51 154.95 L303.05 155.42 L304.59 155.91 L306.13 156.4 L307.68 156.91 L309.22 157.42 L310.76 157.95 L312.3 158.5 L313.85 159.06 L315.39 159.63 L316.93 160.22 L318.47 160.83 L320.02 161.45 L321.56 162.09 L323.1 162.74 L324.64 163.42 L326.19 164.11 L327.73 164.83 L329.27 165.56 L330.81 166.32 L332.36 167.1 L333.9 167.9 M333.9 167.9 L366.1 167.9"/>
</g>
<g fill="none" stroke="#000" stroke-width="1.9">
<rect x="49.8" y="24.2" width="328.5" height="245.4"/>
</g>
<g stroke="#000" stroke-width="1.7" stroke-linecap="round">
<line x1="44.0" x2="49.8" y1="24.2" y2="24.2"/>
<line x1="44.0" x2="49.8" y1="72.1" y2="72.1"/>
<line x1="44.0" x2="49.8" y1="120" y2="120"/>
<line x1="44.0" x2="49.8" y1="167.9" y2="167.9"/>
<line x1="44.0" x2="49.8" y1="215.8" y2="215.8"/>
<line x1="44.0" x2="49.8" y1="263.7" y2="263.7"/>
<line x1="70.3" x2="70.3" y1="269.6" y2="275.3"/>
<line x1="119.13" x2="119.13" y1="269.6" y2="275.3"/>
<line x1="167.96" x2="167.96" y1="269.6" y2="275.3"/>
<line x1="216.79" x2="216.79" y1="269.6" y2="275.3"/>
<line x1="265.62" x2="265.62" y1="269.6" y2="275.3"/>
<line x1="314.45" x2="314.45" y1="269.6" y2="275.3"/>
<line x1="363.28" x2="363.28" y1="269.6" y2="275.3"/>
</g>
<g font-family='"Liberation Sans", Arial, Helvetica, sans-serif' font-size="14" fill="#000">
<text x="39.3" y="29.05" text-anchor="end">3</text>
<text x="39.3" y="76.95" text-anchor="end">2</text>
<text x="39.3" y="124.85" text-anchor="end">1</text>
<text x="39.3" y="172.75" text-anchor="end">0</text>
<text x="39.3" y="220.65" text-anchor="end">−1</text>
<text x="39.3" y="268.55" text-anchor="end">−2</text>
<text x="70.3" y="290.7" text-anchor="middle">−8</text>
<text x="119.13" y="290.7" text-anchor="middle">−7</text>
<text x="167.96" y="290.7" text-anchor="middle">−6</text>
<text x="216.79" y="290.7" text-anchor="middle">−5</text>
<text x="265.62" y="290.7" text-anchor="middle">−4</text>
<text x="314.45" y="290.7" text-anchor="middle">−3</text>
<text x="363.28" y="290.7" text-anchor="middle">−2</text>
<text x="70.3" y="13.9" text-anchor="middle">14</text>
<text x="119.13" y="13.9" text-anchor="middle">13</text>
<text x="167.96" y="13.9" text-anchor="middle">14</text>
<text x="216.79" y="13.9" text-anchor="middle">13</text>
<text x="265.62" y="13.9" text-anchor="middle">11</text>
<text x="314.45" y="13.9" text-anchor="middle">9</text>
<text x="363.28" y="13.9" text-anchor="middle">2</text>
</g>
<text class="bl" x="4.8" y="15.8" font-family='"Liberation Sans", Arial, Helvetica, sans-serif' font-size="22.5" font-weight="bold">A</text>
<text y="315.1" font-family='"Liberation Sans", Arial, Helvetica, sans-serif' font-size="15.8"><tspan x="188.6">Log</tspan><tspan x="220.8">(</tspan><tspan dx="0.6">λ</tspan><tspan dx="1.6">)</tspan></text>
<text transform="translate(12.1 147.4) rotate(-90)" text-anchor="middle" font-family='"Liberation Sans", Arial, Helvetica, sans-serif' font-size="16.5">Coefficients</text>
<g stroke="#A6A6A6" stroke-width="1.2" fill="none">
<path d="M769.8 33.5V60.3M766.2 33.5H773.4M766.2 60.3H773.4M765.31 39.1V66.7M761.71 39.1H768.91M761.71 66.7H768.91M760.81 49.5V76.9M757.21 49.5H764.41M757.21 76.9H764.41M756.32 60.3V85.5M752.72 60.3H759.92M752.72 85.5H759.92M751.83 69.7V91.5M748.23 69.7H755.43M748.23 91.5H755.43M747.34 76.5V99.9M743.74 76.5H750.94M743.74 99.9H750.94M742.84 84.8V106.6M739.24 84.8H746.44M739.24 106.6H746.44M738.35 92.9V114.7M734.75 92.9H741.95M734.75 114.7H741.95M733.86 103.1V124.9M730.26 103.1H737.46M730.26 124.9H737.46M729.37 114.8V136.4M725.77 114.8H732.97M725.77 136.4H732.97M724.88 124.4V147.6M721.27 124.4H728.48M721.27 147.6H728.48M720.38 133.3V156.3M716.78 133.3H723.98M716.78 156.3H723.98M715.89 141.3V165.1M712.29 141.3H719.49M712.29 165.1H719.49M711.4 148.6V172.6M707.8 148.6H715M707.8 172.6H715M706.9 155V179M703.3 155H710.5M703.3 179H710.5M702.41 160.3V183.9M698.81 160.3H706.01M698.81 183.9H706.01M697.92 164.5V188.7M694.32 164.5H701.52M694.32 188.7H701.52M693.43 168V193.2M689.83 168H697.03M689.83 193.2H697.03M688.93 170.5V196.5M685.33 170.5H692.53M685.33 196.5H692.53M684.44 171.9V199.9M680.84 171.9H688.04M680.84 199.9H688.04M679.95 171.4V200.4M676.35 171.4H683.55M676.35 200.4H683.55M675.46 166.4V201.2M671.86 166.4H679.06M671.86 201.2H679.06M670.96 160.5V202.3M667.36 160.5H674.56M667.36 202.3H674.56M666.47 154.4V202.8M662.87 154.4H670.07M662.87 202.8H670.07M661.98 149.4V205.2M658.38 149.4H665.58M658.38 205.2H665.58M657.49 147V208.8M653.89 147H661.09M653.89 208.8H661.09M653 145.5V212.7M649.39 145.5H656.6M649.39 212.7H656.6M648.5 143.6V216.6M644.9 143.6H652.1M644.9 216.6H652.1M644.01 142.3V219.1M640.41 142.3H647.61M640.41 219.1H647.61M639.52 140.4V222.2M635.92 140.4H643.12M635.92 222.2H643.12M635.02 138.5V225.3M631.42 138.5H638.62M631.42 225.3H638.62M630.53 136.8V228.8M626.93 136.8H634.13M626.93 228.8H634.13M626.04 137.3V231.5M622.44 137.3H629.64M622.44 231.5H629.64M621.55 137.4V234.6M617.95 137.4H625.15M617.95 234.6H625.15M617.05 137.4V237M613.45 137.4H620.65M613.45 237H620.65M612.56 137.4V239M608.96 137.4H616.16M608.96 239H616.16M608.07 137.1V241.3M604.47 137.1H611.67M604.47 241.3H611.67M603.58 136.8V243.4M599.98 136.8H607.18M599.98 243.4H607.18M599.09 136.6V245.2M595.49 136.6H602.69M595.49 245.2H602.69M594.59 136.4V246.8M590.99 136.4H598.19M590.99 246.8H598.19M590.1 136V248.2M586.5 136H593.7M586.5 248.2H593.7M585.61 135.4V249.6M582.01 135.4H589.21M582.01 249.6H589.21M581.12 134.8V250.8M577.51 134.8H584.72M577.51 250.8H584.72M576.62 134.3V251.9M573.02 134.3H580.22M573.02 251.9H580.22M572.13 133.9V252.9M568.53 133.9H575.73M568.53 252.9H575.73M567.64 133.3V253.9M564.04 133.3H571.24M564.04 253.9H571.24M563.14 132.7V254.9M559.54 132.7H566.75M559.54 254.9H566.75M558.65 132.3V255.5M555.05 132.3H562.25M555.05 255.5H562.25M554.16 131.9V256.1M550.56 131.9H557.76M550.56 256.1H557.76M549.67 131.5V256.7M546.07 131.5H553.27M546.07 256.7H553.27M545.17 131.1V257.1M541.57 131.1H548.77M541.57 257.1H548.77M540.68 130.6V257.8M537.08 130.6H544.28M537.08 257.8H544.28M536.19 130.2V258.2M532.59 130.2H539.79M532.59 258.2H539.79M531.7 129.8V258.6M528.1 129.8H535.3M528.1 258.6H535.3M527.2 129.57V258.63M523.6 129.57H530.8M523.6 258.63H530.8M522.71 129.34V258.86M519.11 129.34H526.31M519.11 258.86H526.31M518.22 129.11V258.89M514.62 129.11H521.82M514.62 258.89H521.82M513.73 128.89V259.11M510.13 128.89H517.33M510.13 259.11H517.33M509.23 128.66V259.14M505.63 128.66H512.83M505.63 259.14H512.83M504.74 128.43V259.37M501.14 128.43H508.34M501.14 259.37H508.34M500.25 128.2V259.4M496.65 128.2H503.85M496.65 259.4H503.85M495.76 127.97V259.63M492.16 127.97H499.36M492.16 259.63H499.36M491.26 127.74V259.66M487.66 127.74H494.87M487.66 259.66H494.87M486.77 127.51V259.89M483.17 127.51H490.37M483.17 259.89H490.37M482.28 127.29V259.91M478.68 127.29H485.88M478.68 259.91H485.88M477.79 127.06V260.14M474.19 127.06H481.39M474.19 260.14H481.39M473.29 126.83V260.37M469.69 126.83H476.89M469.69 260.37H476.89M468.8 126.6V260.6M465.2 126.6H472.4M465.2 260.6H472.4"/>
</g>
<g fill="#58BAD4">
<circle cx="769.8" cy="46.9" r="2.45"/>
<circle cx="765.31" cy="52.9" r="2.45"/>
<circle cx="760.81" cy="63.2" r="2.45"/>
<circle cx="756.32" cy="72.9" r="2.45"/>
<circle cx="751.83" cy="80.6" r="2.45"/>
<circle cx="747.34" cy="88.2" r="2.45"/>
<circle cx="742.84" cy="95.7" r="2.45"/>
<circle cx="738.35" cy="103.8" r="2.45"/>
<circle cx="733.86" cy="114" r="2.45"/>
<circle cx="729.37" cy="125.6" r="2.45"/>
<circle cx="724.88" cy="136" r="2.45"/>
<circle cx="720.38" cy="144.8" r="2.45"/>
<circle cx="715.89" cy="153.2" r="2.45"/>
<circle cx="711.4" cy="160.6" r="2.45"/>
<circle cx="706.9" cy="167" r="2.45"/>
<circle cx="702.41" cy="172.1" r="2.45"/>
<circle cx="697.92" cy="176.6" r="2.45"/>
<circle cx="693.43" cy="180.6" r="2.45"/>
<circle cx="688.93" cy="183.5" r="2.45"/>
<circle cx="684.44" cy="185.9" r="2.45"/>
<circle cx="679.95" cy="185.9" r="2.45"/>
<circle cx="675.46" cy="183.8" r="2.45"/>
<circle cx="670.96" cy="181.4" r="2.45"/>
<circle cx="666.47" cy="178.6" r="2.45"/>
<circle cx="661.98" cy="177.3" r="2.45"/>
<circle cx="657.49" cy="177.9" r="2.45"/>
<circle cx="653" cy="179.1" r="2.45"/>
<circle cx="648.5" cy="180.1" r="2.45"/>
<circle cx="644.01" cy="180.7" r="2.45"/>
<circle cx="639.52" cy="181.3" r="2.45"/>
<circle cx="635.02" cy="181.9" r="2.45"/>
<circle cx="630.53" cy="182.8" r="2.45"/>
<circle cx="626.04" cy="184.4" r="2.45"/>
<circle cx="621.55" cy="186" r="2.45"/>
<circle cx="617.05" cy="187.2" r="2.45"/>
<circle cx="612.56" cy="188.2" r="2.45"/>
<circle cx="608.07" cy="189.2" r="2.45"/>
<circle cx="603.58" cy="190.1" r="2.45"/>
<circle cx="599.09" cy="190.9" r="2.45"/>
<circle cx="594.59" cy="191.6" r="2.45"/>
<circle cx="590.1" cy="192.1" r="2.45"/>
<circle cx="585.61" cy="192.5" r="2.45"/>
<circle cx="581.12" cy="192.8" r="2.45"/>
<circle cx="576.62" cy="193.1" r="2.45"/>
<circle cx="572.13" cy="193.4" r="2.45"/>
<circle cx="567.64" cy="193.6" r="2.45"/>
<circle cx="563.14" cy="193.8" r="2.45"/>
<circle cx="558.65" cy="193.9" r="2.45"/>
<circle cx="554.16" cy="194" r="2.45"/>
<circle cx="549.67" cy="194.1" r="2.45"/>
<circle cx="545.17" cy="194.1" r="2.45"/>
<circle cx="540.68" cy="194.2" r="2.45"/>
<circle cx="536.19" cy="194.2" r="2.45"/>
<circle cx="531.7" cy="194.2" r="2.45"/>
<circle cx="527.2" cy="194.1" r="2.45"/>
<circle cx="522.71" cy="194.1" r="2.45"/>
<circle cx="518.22" cy="194" r="2.45"/>
<circle cx="513.73" cy="194" r="2.45"/>
<circle cx="509.23" cy="193.9" r="2.45"/>
<circle cx="504.74" cy="193.9" r="2.45"/>
<circle cx="500.25" cy="193.8" r="2.45"/>
<circle cx="495.76" cy="193.8" r="2.45"/>
<circle cx="491.26" cy="193.7" r="2.45"/>
<circle cx="486.77" cy="193.7" r="2.45"/>
<circle cx="482.28" cy="193.6" r="2.45"/>
<circle cx="477.79" cy="193.6" r="2.45"/>
<circle cx="473.29" cy="193.6" r="2.45"/>
<circle cx="468.8" cy="193.6" r="2.45"/>
</g>
<line x1="531.7" x2="531.7" y1="270.6" y2="24.2" stroke="#000" stroke-width="1.8" stroke-dasharray="7.0 7.25"/>
<line x1="724.88" x2="724.88" y1="270.6" y2="24.2" stroke="#000" stroke-width="1.8" stroke-dasharray="7.0 7.25"/>
<rect x="457.0" y="24.2" width="324.95" height="245.5" fill="none" stroke="#000" stroke-width="1.9"/>
<g stroke="#000" stroke-width="1.7" stroke-linecap="round">
<line x1="450.9" x2="457.0" y1="230" y2="230"/>
<line x1="450.9" x2="457.0" y1="175.57" y2="175.57"/>
<line x1="450.9" x2="457.0" y1="121.14" y2="121.14"/>
<line x1="450.9" x2="457.0" y1="66.71" y2="66.71"/>
<line x1="476.9" x2="476.9" y1="269.7" y2="275.3"/>
<line x1="525.25" x2="525.25" y1="269.7" y2="275.3"/>
<line x1="573.6" x2="573.6" y1="269.7" y2="275.3"/>
<line x1="621.95" x2="621.95" y1="269.7" y2="275.3"/>
<line x1="670.3" x2="670.3" y1="269.7" y2="275.3"/>
<line x1="718.65" x2="718.65" y1="269.7" y2="275.3"/>
<line x1="767" x2="767" y1="269.7" y2="275.3"/>
</g>
<g font-family='"Liberation Sans", Arial, Helvetica, sans-serif' font-size="14" fill="#000">
<text x="446.2" y="234.85" text-anchor="end">1.0</text>
<text x="446.2" y="180.42" text-anchor="end">1.1</text>
<text x="446.2" y="125.99" text-anchor="end">1.2</text>
<text x="446.2" y="71.56" text-anchor="end">1.3</text>
<text x="476.9" y="290.7" text-anchor="middle">−8</text>
<text x="525.25" y="290.7" text-anchor="middle">−7</text>
<text x="573.6" y="290.7" text-anchor="middle">−6</text>
<text x="621.95" y="290.7" text-anchor="middle">−5</text>
<text x="670.3" y="290.7" text-anchor="middle">−4</text>
<text x="718.65" y="290.7" text-anchor="middle">−3</text>
<text x="767" y="290.7" text-anchor="middle">−2</text>
<text x="769.8" y="13.9" text-anchor="middle">0</text>
<text x="760.81" y="13.9" text-anchor="middle">2</text>
<text x="751.83" y="13.9" text-anchor="middle">2</text>
<text x="742.84" y="13.9" text-anchor="middle">4</text>
<text x="733.86" y="13.9" text-anchor="middle">7</text>
<text x="724.88" y="13.9" text-anchor="middle">7</text>
<text x="715.89" y="13.9" text-anchor="middle">9</text>
<text x="706.9" y="13.9" text-anchor="middle">9</text>
<text x="697.92" y="13.9" text-anchor="middle">9</text>
<text x="688.93" y="13.9" text-anchor="middle">9</text>
<text x="675.46" y="13.9" text-anchor="middle">11</text>
<text x="657.49" y="13.9" text-anchor="middle">13</text>
<text x="639.52" y="13.9" text-anchor="middle">13</text>
<text x="621.55" y="13.9" text-anchor="middle">13</text>
<text x="603.58" y="13.9" text-anchor="middle">14</text>
<text x="585.61" y="13.9" text-anchor="middle">14</text>
<text x="567.64" y="13.9" text-anchor="middle">14</text>
<text x="549.67" y="13.9" text-anchor="middle">14</text>
<text x="531.7" y="13.9" text-anchor="middle">13</text>
<text x="513.73" y="13.9" text-anchor="middle">13</text>
<text x="495.76" y="13.9" text-anchor="middle">14</text>
<text x="477.79" y="13.9" text-anchor="middle">14</text>
</g>
<text class="bl" x="408.8" y="15.7" font-family='"Liberation Sans", Arial, Helvetica, sans-serif' font-size="20.5" font-weight="bold">B</text>
<text y="315.1" font-family='"Liberation Sans", Arial, Helvetica, sans-serif' font-size="15.8"><tspan x="594.3">Log</tspan><tspan x="626.5">(</tspan><tspan dx="0.6">λ</tspan><tspan dx="1.6">)</tspan></text>
<text transform="translate(415.9 146.5) rotate(-90)" text-anchor="middle" font-family='"Liberation Sans", Arial, Helvetica, sans-serif' font-size="16.5">Binomial Deviance</text>
</svg>
</body></html>
